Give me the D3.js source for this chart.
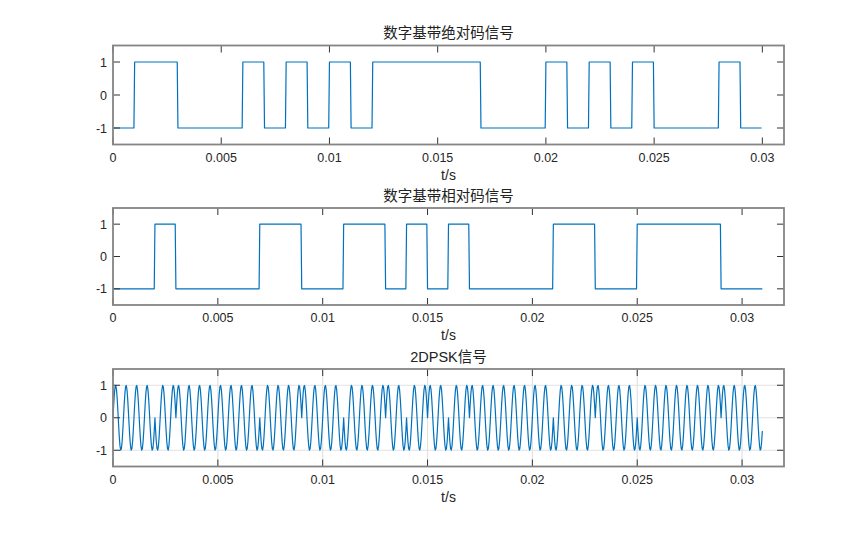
<!DOCTYPE html>
<html><head><meta charset="utf-8">
<script src="https://cdn.jsdelivr.net/npm/d3@7/dist/d3.min.js"></script>
<style>body{margin:0;background:#fff}svg{display:block}</style>
</head><body><svg id="c" width="867" height="538"></svg>
<script>
// ---- data ----
const titles = ["数字基带绝对码信号", "数字基带相对码信号", "2DPSK信号"];
const absCode = [0,1,1,0,0,0,1,0,1,0,1,0,1,1,1,1,1,0,0,0,1,0,1,0,1,0,0,0,1,0];
const relCode = [0,0,1,0,0,0,0,1,1,0,0,1,1,0,1,0,1,0,0,0,0,1,1,0,0,1,1,1,1,0,0];
const bitTime = 0.001;        // s per bit
const samplesPerBit = 30;     // sampling used for the plotted curves
const carrierFreq = 2000;     // Hz
const xMaxes = [0.031, 0.032, 0.032];
const xTicks = [0, 0.005, 0.01, 0.015, 0.02, 0.025, 0.03];
const xTickLabels = ["0", "0.005", "0.01", "0.015", "0.02", "0.025", "0.03"];
const yTicks = [-1, 0, 1];
const yTickLabels = ["-1", "0", "1"];
const xLabel = "t/s";

// ---- series ----
const dt = bitTime / samplesPerBit;
function nrz(bits) {
  const out = [];
  for (let i = 0; i < bits.length * samplesPerBit; i++) {
    out.push([i * dt, 2 * bits[Math.floor(i / samplesPerBit)] - 1]);
  }
  return out;
}
function dpsk(bits) {
  const out = [];
  for (let i = 0; i < bits.length * samplesPerBit; i++) {
    const t = i * dt;
    const s = Math.sin(2 * Math.PI * carrierFreq * t);
    out.push([t, bits[Math.floor(i / samplesPerBit)] ? -s : s]);
  }
  return out;
}
const series = [nrz(absCode), nrz(relCode), dpsk(relCode)];

// ---- layout ----
const svg = d3.select("#c");
const L = 113, R = 784;
const panels = [{top: 45.5, bottom: 144.5}, {top: 208, bottom: 305}, {top: 369, bottom: 466.5}];
const grids = [false, false, true];
const font = "'Liberation Sans', Arial, Helvetica, sans-serif";
const titleFont = "'Liberation Sans', 'Noto Sans CJK SC', sans-serif";
const txt = "#262626";

panels.forEach((p, k) => {
  const x = d3.scaleLinear().domain([0, xMaxes[k]]).range([L, R]);
  const y = d3.scaleLinear().domain([-1.5, 1.5]).range([p.bottom, p.top]);
  const g = svg.append("g");

  if (grids[k]) {
    g.selectAll(".gx").data(xTicks).join("line")
      .attr("x1", d => x(d)).attr("x2", d => x(d))
      .attr("y1", p.top).attr("y2", p.bottom)
      .attr("stroke", "#e2e2e2").attr("stroke-width", 1.2);
    g.selectAll(".gy").data(yTicks).join("line")
      .attr("x1", L).attr("x2", R)
      .attr("y1", d => y(d)).attr("y2", d => y(d))
      .attr("stroke", "#e2e2e2").attr("stroke-width", 1.2);
  }

  // data line
  g.append("path").datum(series[k])
    .attr("fill", "none").attr("stroke", "#0072BD").attr("stroke-width", 1.2)
    .attr("stroke-linejoin", "round")
    .attr("d", d3.line().x(d => x(d[0])).y(d => y(d[1])));

  // ticks (inside, mirrored)
  const tl = 7;
  xTicks.forEach(t => {
    g.append("line").attr("x1", x(t)).attr("x2", x(t)).attr("y1", p.bottom).attr("y2", p.bottom - tl)
      .attr("stroke", "#333").attr("stroke-width", 1);
    g.append("line").attr("x1", x(t)).attr("x2", x(t)).attr("y1", p.top).attr("y2", p.top + tl)
      .attr("stroke", "#333").attr("stroke-width", 1);
  });
  yTicks.forEach(t => {
    g.append("line").attr("x1", L).attr("x2", L + tl).attr("y1", y(t)).attr("y2", y(t))
      .attr("stroke", "#333").attr("stroke-width", 1);
    g.append("line").attr("x1", R).attr("x2", R - tl).attr("y1", y(t)).attr("y2", y(t))
      .attr("stroke", "#333").attr("stroke-width", 1);
  });

  // box
  g.append("rect").attr("x", L).attr("y", p.top).attr("width", R - L).attr("height", p.bottom - p.top)
    .attr("fill", "none").attr("stroke", "#848484").attr("stroke-width", 1.8);

  // tick labels
  g.selectAll(".xl").data(xTicks).join("text")
    .attr("x", d => x(d)).attr("y", p.bottom + 17)
    .attr("text-anchor", "middle").attr("font-family", font).attr("font-size", 12.5)
    .attr("fill", txt).text((d, i) => xTickLabels[i]);
  g.selectAll(".yl").data(yTicks).join("text")
    .attr("x", L - 6).attr("y", d => y(d) + 4.5)
    .attr("text-anchor", "end").attr("font-family", font).attr("font-size", 12.5)
    .attr("fill", txt).text((d, i) => yTickLabels[i]);

  // x label
  g.append("text").attr("x", (L + R) / 2).attr("y", p.bottom + 35)
    .attr("text-anchor", "middle").attr("font-family", font).attr("font-size", 14)
    .attr("fill", txt).text(xLabel);

  // title
  g.append("text").attr("x", (L + R) / 2).attr("y", p.top - 7.5)
    .attr("text-anchor", "middle").attr("font-family", titleFont).attr("font-size", 14.5)
    .attr("fill", "#222").text(titles[k]);
});
</script>
</body></html>
